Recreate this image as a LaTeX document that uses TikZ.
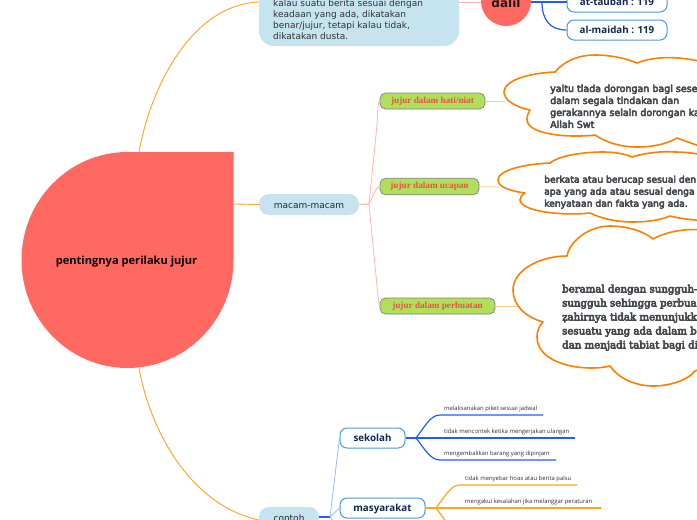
\documentclass[tikz,border=0pt]{standalone}
\usepackage{fontspec}
\setmainfont{DejaVu Sans}
\newfontfamily\uifont{Open Sans}[BoldFont={Open Sans Bold}]
\newfontfamily\cloudsans{DejaVu Sans}[FakeBold=5]
\newfontfamily\cloudserif{DejaVu Serif}[FakeBold=6]
\newfontfamily\rednodefont{Liberation Serif}
\definecolor{rootred}{HTML}{FF6961}
\definecolor{paleblue}{HTML}{C5E4F0}
\definecolor{leafgreen}{HTML}{B0DF5C}
\definecolor{brightblue}{HTML}{1F5CFF}
\definecolor{softblue}{HTML}{9DB8FF}
\definecolor{boxblue}{HTML}{4A9BD8}
\definecolor{navy}{HTML}{10294F}
\definecolor{cloudorange}{HTML}{FF8000}
\definecolor{linkorange}{HTML}{FFA51E}
\definecolor{paleorange}{HTML}{FFC48C}
\definecolor{palepink}{HTML}{FFB5B0}
\definecolor{inkgray}{HTML}{45494D}
\definecolor{rednode}{HTML}{EA5248}
\tikzset{
  x=1pt,y=-1pt,
  paleboxstyle/.style={fill=paleblue,rounded corners=8pt,inner sep=0pt,font=\fontsize{9}{11}\selectfont\color{black!85}},
  greenstyle/.style={draw=black!50,fill=leafgreen,rounded corners=5.5pt,inner sep=0pt,line width=.7pt,
    font=\fontsize{9.2}{10}\selectfont\rednodefont\bfseries\color{rednode}},
  whitestyle/.style={draw=boxblue,fill=white,rounded corners=7pt,inner sep=0pt,line width=1pt,
    text height=9pt,text depth=2pt,
    font=\fontsize{9.8}{12}\selectfont\uifont\bfseries\color{navy}},
  cloudstyle/.style={draw=cloudorange,fill=white,line width=1.6pt,line join=round},
  cloudtext/.style={anchor=north west,align=left,inner sep=0pt,text=inkgray},
  tinytext/.style={anchor=west,inner sep=0pt,font=\fontsize{5.9}{7}\selectfont\uifont\color{black!80}},
  mainlink/.style={linkorange,line width=.9pt},
  pinklink/.style={palepink,line width=.8pt},
  bluelink/.style={brightblue,line width=1.2pt},
  orangeleaf/.style={linkorange,line width=1.2pt},
}
\begin{document}
\begin{tikzpicture}
\useasboundingbox (0,0) rectangle (697,520);
\clip (0,0) rectangle (697,520);
\fill[white] (0,0) rectangle (697,520);

% named points
\coordinate (rootTop) at (139,152);
\coordinate (rootRight) at (233.5,204);
\coordinate (rootBottom) at (139,368);
\coordinate (forkMacam) at (369,204);
\coordinate (forkContoh) at (330,517);
\coordinate (forkSekolah) at (416,438);
\coordinate (forkMasy) at (436,508);
\coordinate (forkDalil) at (542,2);
\coordinate (cloudA) at (505,101);
\coordinate (cloudB) at (500,187);
\coordinate (cloudC) at (520,306);
\coordinate (lineA1s) at (440,415); \coordinate (lineA1e) at (543,415);
\coordinate (lineA2s) at (440,438); \coordinate (lineA2e) at (575,438);
\coordinate (lineA3s) at (440,460); \coordinate (lineA3e) at (556,460);
\coordinate (lineB1s) at (460,485); \coordinate (lineB1e) at (577,485);
\coordinate (lineB2s) at (460,508); \coordinate (lineB2e) at (601,508);
\coordinate (lineB3s) at (460,531);

% boxes
\node[paleboxstyle,minimum width=200pt,minimum height=70pt,rounded corners=15pt] (def) at (359,11) {};
\node[paleboxstyle,minimum width=100pt,minimum height=21pt,rounded corners=10pt,text height=9pt,text depth=2pt] (macam) at (309,204.5) {macam-macam};
\node[paleboxstyle,minimum width=60pt,minimum height=26pt,rounded corners=10pt] (contoh) at (289,520) {\raisebox{3pt}{contoh}};
\node[greenstyle,minimum width=105pt,minimum height=16pt] (niat) at (432.5,101) {jujur dalam hati/niat};
\node[greenstyle,minimum width=99pt,minimum height=16.5pt] (ucapan) at (429.5,186.5) {jujur dalam ucapan};
\node[greenstyle,minimum width=115pt,minimum height=16pt] (perbuatan) at (437.5,306) {jujur dalam perbuatan};
\node[whitestyle,minimum width=65pt,minimum height=20pt] (sekolah) at (372.5,438) {sekolah};
\node[whitestyle,minimum width=85pt,minimum height=20pt] (masy) at (382.5,508) {masyarakat};
\node[whitestyle,minimum width=100pt,minimum height=20pt] (taubah) at (617,2) {at-taubah : 119};
\node[whitestyle,minimum width=100pt,minimum height=20pt] (maidah) at (617,30) {al-maidah : 119};
\node[circle,fill=rootred,minimum size=50pt,inner sep=0pt] (dalil) at (506,1) {};

% connectors
\draw[mainlink] (rootTop) .. controls (150,90) and (190,5) .. (def.west |- 0,2);
\draw[mainlink] (rootRight) -- (macam.west);
\draw[mainlink] (rootBottom) .. controls (150,430) and (190,505) .. (contoh.west);
\draw[pinklink] (def.east |- 0,2) -- (dalil.west |- 0,2);
\draw[bluelink] (dalil.east |- 0,2) -- (taubah.west);
\draw[bluelink] (forkDalil) .. controls (542,20) and (550,30) .. (maidah.west);
\draw[palepink,line width=1.2pt] (macam.east) -- (forkMacam);
\draw[pinklink] (forkMacam) -- (377,125) .. controls (378,110) and (378,101) .. (niat.west);
\draw[pinklink] (forkMacam) .. controls (372,200) and (375,187) .. (ucapan.west);
\draw[pinklink] (forkMacam) -- (378,296) .. controls (379,302) and (379,306) .. (perbuatan.west);
\draw[paleorange,line width=.9pt] (niat.east) -- (cloudA);
\draw[paleorange!60,line width=1.2pt] (ucapan.east) -- (cloudB);
\draw[paleorange,line width=.9pt] (perbuatan.east) -- (cloudC);
\draw[bluelink] (contoh.east |- forkContoh) -- (forkContoh);
\draw[softblue,line width=.8pt] (forkContoh) -- (sekolah.west);
\draw[softblue,line width=.8pt] (forkContoh) -- (masy.west);
\draw[softblue,line width=.8pt] (forkContoh) -- (340,530);
\draw[bluelink] (sekolah.east) -- (forkSekolah);
\draw[bluelink] (forkSekolah) .. controls (424,428) and (430,415) .. (lineA1s) -- (lineA1e);
\draw[bluelink] (forkSekolah) -- (lineA2s) -- (lineA2e);
\draw[bluelink] (forkSekolah) .. controls (424,448) and (430,460) .. (lineA3s) -- (lineA3e);
\draw[orangeleaf] (masy.east) -- (forkMasy);
\draw[orangeleaf] (forkMasy) .. controls (444,498) and (450,485) .. (lineB1s) -- (lineB1e);
\draw[orangeleaf] (forkMasy) -- (lineB2s) -- (lineB2e);
\draw[orangeleaf] (forkMasy) .. controls (444,518) and (450,531) .. (lineB3s);

% root teardrop
\fill[rootred] (233.5,152) -- (233.5,260)
  .. controls (233.5,319.6) and (186,368) .. (127.5,368)
  .. controls (69,368) and (21.5,319.6) .. (21.5,260)
  .. controls (21.5,200.4) and (69,152) .. (127.5,152) -- cycle;
\node[inner sep=0pt,font=\fontsize{11.1}{13}\selectfont\uifont\bfseries\color{black}] (root) at (126.5,262) {pentingnya perilaku jujur};

% clouds
\draw[cloudstyle] (715,152) .. controls (700,146) and (690,143) .. (677,138)
  .. controls (665,145) and (650,147) .. (637,147)
  .. controls (620,147) and (605,142) .. (595,135)
  .. controls (570,138) and (528,135) .. (527,120)
  .. controls (527,116) and (528,113) .. (530,110)
  .. controls (515,107) and (504,100) .. (504,92)
  .. controls (504,80) and (530,73) .. (555,72)
  .. controls (565,60) and (580,55) .. (595,55)
  .. controls (610,55) and (625,58) .. (637,63)
  .. controls (655,56) and (680,55) .. (715,65) -- cycle;
\draw[cloudstyle] (715,222) .. controls (700,220) and (685,220) .. (670,216)
  .. controls (660,220) and (648,222) .. (633,222)
  .. controls (615,222) and (600,218) .. (590,213)
  .. controls (565,216) and (521,212) .. (520,200)
  .. controls (520,197) and (522,195) .. (525,193)
  .. controls (510,191) and (498,187) .. (498,180)
  .. controls (498,170) and (525,164) .. (550,163)
  .. controls (560,155) and (585,152) .. (603,152)
  .. controls (615,152) and (625,154) .. (632,157)
  .. controls (645,153) and (660,151) .. (675,152) .. controls (690,152) and (705,155) .. (715,158) -- cycle;
\draw[cloudstyle] (715,362) .. controls (710,366) and (703,368) .. (695,371)
  .. controls (688,380) and (670,386) .. (653,386)
  .. controls (635,386) and (618,378) .. (610,366)
  .. controls (585,372) and (537,365) .. (537,337)
  .. controls (537,331) and (539,326) .. (543,322)
  .. controls (525,317) and (513,305) .. (513,290)
  .. controls (513,270) and (540,256) .. (567,256)
  .. controls (570,240) and (590,226) .. (610,226)
  .. controls (628,226) and (645,232) .. (653,239)
  .. controls (665,232) and (690,226) .. (715,232) -- cycle;

% texts
\node[anchor=north west,align=left,inner sep=0pt,font=\fontsize{9}{11}\selectfont\color{black!80}] (deftext) at (273,-0.5)
  {kalau suatu berita sesuai dengan\\keadaan yang ada, dikatakan\\benar/jujur, tetapi kalau tidak,\\dikatakan dusta.};
\node[inner sep=0pt,font=\fontsize{12}{14}\selectfont\bfseries\color{black!90}] (daliltext) at (506,3) {dalil};
\node[cloudtext,font=\fontsize{9.5}{12}\selectfont\cloudsans] (ta) at (550,84.5) {yaitu tiada dorongan bagi sese\\dalam segala tindakan dan\\gerakannya selain dorongan ka\\Allah Swt};
\node[cloudtext,font=\fontsize{9.2}{12}\selectfont\cloudsans] (tb) at (544,175.5) {berkata atau berucap sesuai den\\apa yang ada atau sesuai denga\\kenyataan dan fakta yang ada.};
\node[cloudtext,font=\fontsize{10.2}{14}\selectfont\cloudserif] (tc) at (562,284.5) {beramal dengan sungguh-\\sungguh sehingga perbua\\ẓahirnya tidak menunjukk\\sesuatu yang ada dalam b\\dan menjadi tabiat bagi di};
\node[tinytext] (t1) at (444,408.5) {melaksanakan piket sesuai jadwal};
\node[tinytext] (t2) at (444,431.5) {tidak mencontek ketika mengerjakan ulangan};
\node[tinytext] (t3) at (444,453.5) {mengembalikan barang yang dipinjam};
\node[tinytext] (t4) at (465,478.5) {tidak menyebar hoax atau berita palsu};
\node[tinytext] (t5) at (465,501.5) {mengakui kesalahan jika melanggar peraturan};
\end{tikzpicture}
\end{document}
